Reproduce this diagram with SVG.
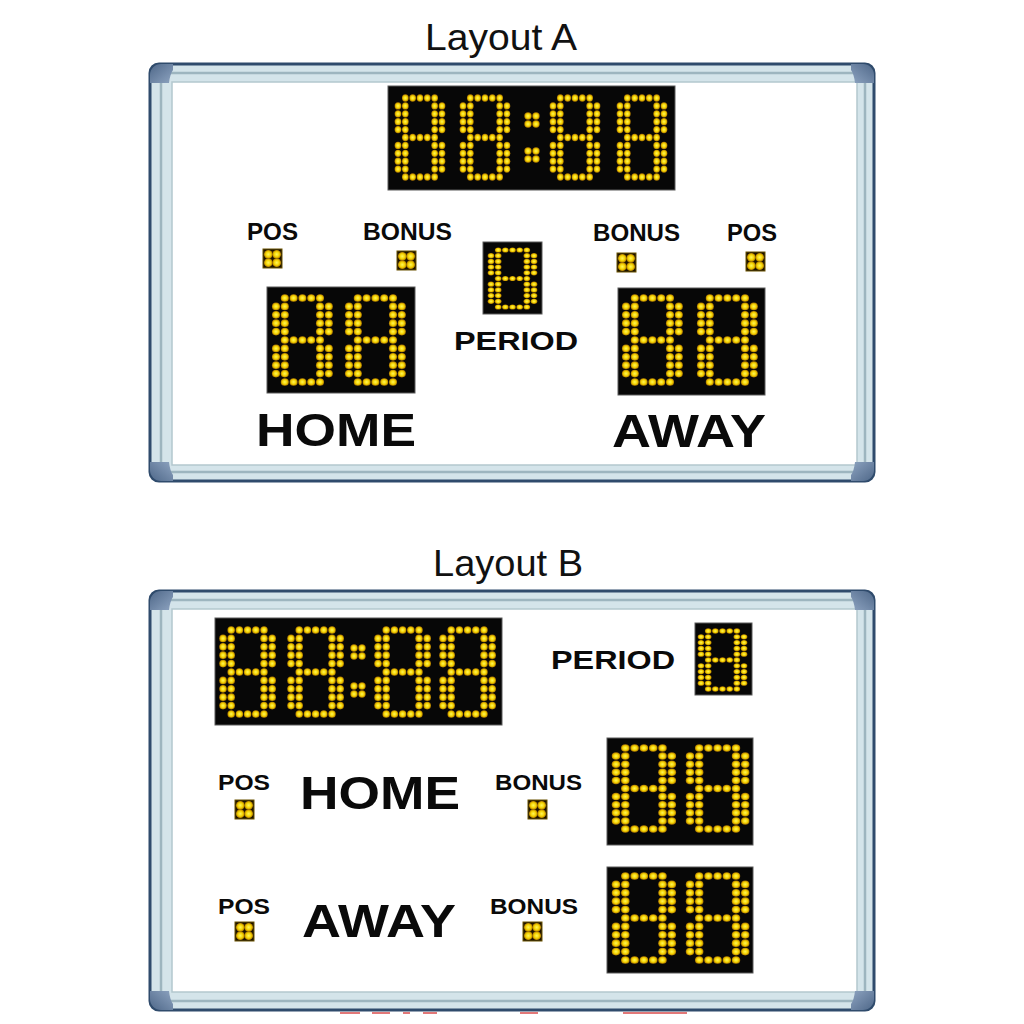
<svg xmlns="http://www.w3.org/2000/svg" xmlns:xlink="http://www.w3.org/1999/xlink" width="1024" height="1024" viewBox="0 0 1024 1024">
<style>
.title{font-family:"Liberation Sans",Arial,sans-serif;font-size:37px;fill:#111}
.lbl{font-family:"Liberation Sans",Arial,sans-serif;font-weight:bold;fill:#0a0a0a}
.panel{fill:#070707;stroke:#5a5a5a;stroke-width:1}
.dot{fill:url(#led)}
.outer{fill:#d4e4ea;stroke:#2f4b6c;stroke-width:3}
.groove{fill:none;stroke:#9db5bf;stroke-width:2.5}
.board{fill:#ffffff;stroke:#b3c7ce;stroke-width:1.5}
.cap{fill:url(#capg)}
</style>
<defs>
<radialGradient id="led" cx="0.5" cy="0.5" r="0.5">
<stop offset="0" stop-color="#fff75a"/>
<stop offset="0.6" stop-color="#f5d200"/>
<stop offset="1" stop-color="#a87200"/>
</radialGradient>
<linearGradient id="capg" x1="0" y1="0" x2="1" y2="1">
<stop offset="0" stop-color="#4f6889"/>
<stop offset="1" stop-color="#8da3c0"/>
</linearGradient>
<g id="d8">
<circle class="dot" cx="10" cy="0" r="4.6"/><circle class="dot" cx="20" cy="0" r="4.6"/><circle class="dot" cx="30" cy="0" r="4.6"/><circle class="dot" cx="40" cy="0" r="4.6"/><circle class="dot" cx="50" cy="0" r="4.6"/>
<circle class="dot" cx="10" cy="50" r="4.6"/><circle class="dot" cx="20" cy="50" r="4.6"/><circle class="dot" cx="30" cy="50" r="4.6"/><circle class="dot" cx="40" cy="50" r="4.6"/><circle class="dot" cx="50" cy="50" r="4.6"/>
<circle class="dot" cx="10" cy="100" r="4.6"/><circle class="dot" cx="20" cy="100" r="4.6"/><circle class="dot" cx="30" cy="100" r="4.6"/><circle class="dot" cx="40" cy="100" r="4.6"/><circle class="dot" cx="50" cy="100" r="4.6"/>
<circle class="dot" cx="0" cy="10" r="4.6"/><circle class="dot" cx="0" cy="20" r="4.6"/><circle class="dot" cx="0" cy="30" r="4.6"/><circle class="dot" cx="0" cy="40" r="4.6"/>
<circle class="dot" cx="10" cy="10" r="4.6"/><circle class="dot" cx="10" cy="20" r="4.6"/><circle class="dot" cx="10" cy="30" r="4.6"/><circle class="dot" cx="10" cy="40" r="4.6"/>
<circle class="dot" cx="50" cy="10" r="4.6"/><circle class="dot" cx="50" cy="20" r="4.6"/><circle class="dot" cx="50" cy="30" r="4.6"/><circle class="dot" cx="50" cy="40" r="4.6"/>
<circle class="dot" cx="60" cy="10" r="4.6"/><circle class="dot" cx="60" cy="20" r="4.6"/><circle class="dot" cx="60" cy="30" r="4.6"/><circle class="dot" cx="60" cy="40" r="4.6"/>
<circle class="dot" cx="0" cy="60" r="4.6"/><circle class="dot" cx="0" cy="70" r="4.6"/><circle class="dot" cx="0" cy="80" r="4.6"/><circle class="dot" cx="0" cy="90" r="4.6"/>
<circle class="dot" cx="10" cy="60" r="4.6"/><circle class="dot" cx="10" cy="70" r="4.6"/><circle class="dot" cx="10" cy="80" r="4.6"/><circle class="dot" cx="10" cy="90" r="4.6"/>
<circle class="dot" cx="50" cy="60" r="4.6"/><circle class="dot" cx="50" cy="70" r="4.6"/><circle class="dot" cx="50" cy="80" r="4.6"/><circle class="dot" cx="50" cy="90" r="4.6"/>
<circle class="dot" cx="60" cy="60" r="4.6"/><circle class="dot" cx="60" cy="70" r="4.6"/><circle class="dot" cx="60" cy="80" r="4.6"/><circle class="dot" cx="60" cy="90" r="4.6"/>
</g>
<g id="colon">
<circle class="dot" cx="0" cy="0" r="3.7"/><circle class="dot" cx="8" cy="0" r="3.7"/><circle class="dot" cx="0" cy="8" r="3.7"/><circle class="dot" cx="8" cy="8" r="3.7"/>
</g>
<g id="sq">
<rect x="0" y="0" width="19" height="19" fill="#1a1200" stroke="#6b5200" stroke-width="1"/>
<circle class="dot" cx="5.3" cy="5.3" r="4.4"/><circle class="dot" cx="13.7" cy="5.3" r="4.4"/><circle class="dot" cx="5.3" cy="13.7" r="4.4"/><circle class="dot" cx="13.7" cy="13.7" r="4.4"/>
</g>
<path id="capTL" class="cap" d="M0,19 V11 A11,11 0 0 1 11,0 H23 V6 Q20,10 19,19 Z"/>
</defs>

<rect x="0" y="0" width="1024" height="1024" fill="#ffffff"/>

<!-- ===== Layout A ===== -->
<text id="titleA" class="title" x="501" y="50" text-anchor="middle" textLength="152" lengthAdjust="spacingAndGlyphs">Layout A</text>

<g id="frameA">
<rect class="outer" x="150" y="64" width="724" height="417" rx="9"/>
<rect class="groove" x="161" y="73" width="704" height="399"/>
<rect class="board" x="172" y="82" width="685" height="383"/>
<use href="#capTL" transform="translate(150,64)"/>
<use href="#capTL" transform="translate(874,64) scale(-1,1)"/>
<use href="#capTL" transform="translate(150,481) scale(1,-1)"/>
<use href="#capTL" transform="translate(874,481) scale(-1,-1)"/>
</g>

<g id="clockA">
<rect class="panel" x="388" y="86" width="287" height="104"/>
<use href="#d8" transform="translate(398,98) scale(0.733,0.79)"/>
<use href="#d8" transform="translate(463,98) scale(0.733,0.79)"/>
<use href="#colon" transform="translate(528,116)"/>
<use href="#colon" transform="translate(528,151)"/>
<use href="#d8" transform="translate(553,98) scale(0.733,0.79)"/>
<use href="#d8" transform="translate(620,98) scale(0.733,0.79)"/>
</g>

<g id="posA-home">
<text class="lbl" x="247" y="240" font-size="23" textLength="51" lengthAdjust="spacingAndGlyphs">POS</text>
<use href="#sq" transform="translate(263,249)"/>
</g>
<g id="bonusA-home">
<text class="lbl" x="363" y="240" font-size="23" textLength="89" lengthAdjust="spacingAndGlyphs">BONUS</text>
<use href="#sq" transform="translate(397,251)"/>
</g>
<g id="bonusA-away">
<text class="lbl" x="593" y="241" font-size="23" textLength="87" lengthAdjust="spacingAndGlyphs">BONUS</text>
<use href="#sq" transform="translate(617,253)"/>
</g>
<g id="posA-away">
<text class="lbl" x="727" y="241" font-size="23" textLength="50" lengthAdjust="spacingAndGlyphs">POS</text>
<use href="#sq" transform="translate(746,252)"/>
</g>

<g id="periodA">
<rect class="panel" x="483" y="242" width="59" height="72"/>
<use href="#d8" transform="translate(491,250) scale(0.717,0.57)"/>
<text class="lbl" x="454" y="350" font-size="25" textLength="124" lengthAdjust="spacingAndGlyphs">PERIOD</text>
</g>

<g id="homeA">
<rect class="panel" x="267" y="287" width="148" height="106"/>
<use href="#d8" transform="translate(276,298) scale(0.88,0.84)"/>
<use href="#d8" transform="translate(349,298) scale(0.88,0.84)"/>
<text class="lbl" x="256" y="446" font-size="47" textLength="160" lengthAdjust="spacingAndGlyphs">HOME</text>
</g>

<g id="awayA">
<rect class="panel" x="618" y="288" width="147" height="107"/>
<use href="#d8" transform="translate(626,298) scale(0.88,0.84)"/>
<use href="#d8" transform="translate(701,298) scale(0.88,0.84)"/>
<text class="lbl" x="612" y="447" font-size="47" textLength="154" lengthAdjust="spacingAndGlyphs">AWAY</text>
</g>

<!-- ===== Layout B ===== -->
<text id="titleB" class="title" x="508" y="576" text-anchor="middle" textLength="150" lengthAdjust="spacingAndGlyphs">Layout B</text>

<g id="frameB">
<rect class="outer" x="150" y="591" width="724" height="419" rx="9"/>
<rect class="groove" x="161" y="600" width="704" height="401"/>
<rect class="board" x="172" y="609" width="685" height="383"/>
<use href="#capTL" transform="translate(150,591)"/>
<use href="#capTL" transform="translate(874,591) scale(-1,1)"/>
<use href="#capTL" transform="translate(150,1010) scale(1,-1)"/>
<use href="#capTL" transform="translate(874,1010) scale(-1,-1)"/>
</g>

<g id="clockB">
<rect class="panel" x="215" y="618" width="287" height="107"/>
<use href="#d8" transform="translate(223,630) scale(0.82,0.84)"/>
<use href="#d8" transform="translate(291,630) scale(0.82,0.84)"/>
<use href="#colon" transform="translate(354,648)"/>
<use href="#colon" transform="translate(354,686)"/>
<use href="#d8" transform="translate(378,630) scale(0.82,0.84)"/>
<use href="#d8" transform="translate(443,630) scale(0.82,0.84)"/>
</g>

<g id="periodB">
<text class="lbl" x="551" y="669" font-size="26" textLength="124" lengthAdjust="spacingAndGlyphs">PERIOD</text>
<rect class="panel" x="695" y="623" width="57" height="72"/>
<use href="#d8" transform="translate(701,631) scale(0.717,0.58)"/>
</g>

<g id="homeB">
<text class="lbl" x="218" y="790" font-size="22" textLength="52" lengthAdjust="spacingAndGlyphs">POS</text>
<use href="#sq" transform="translate(235,800)"/>
<text class="lbl" x="300" y="809" font-size="47" textLength="160" lengthAdjust="spacingAndGlyphs">HOME</text>
<text class="lbl" x="495" y="790" font-size="22" textLength="87" lengthAdjust="spacingAndGlyphs">BONUS</text>
<use href="#sq" transform="translate(528,800)"/>
<rect class="panel" x="607" y="738" width="146" height="107"/>
<use href="#d8" transform="translate(616,748) scale(0.93,0.81)"/>
<use href="#d8" transform="translate(690,748) scale(0.92,0.81)"/>
</g>

<g id="awayB">
<text class="lbl" x="218" y="914" font-size="22" textLength="52" lengthAdjust="spacingAndGlyphs">POS</text>
<use href="#sq" transform="translate(235,922)"/>
<text class="lbl" x="302" y="937" font-size="47" textLength="154" lengthAdjust="spacingAndGlyphs">AWAY</text>
<text class="lbl" x="490" y="914" font-size="22" textLength="88" lengthAdjust="spacingAndGlyphs">BONUS</text>
<use href="#sq" transform="translate(523,922)"/>
<rect class="panel" x="607" y="867" width="146" height="106"/>
<use href="#d8" transform="translate(616,876) scale(0.93,0.84)"/>
<use href="#d8" transform="translate(690,876) scale(0.92,0.84)"/>
</g>

<g id="cutoff" fill="#d02020" opacity="0.6">
<rect x="340" y="1012" width="20" height="2"/>
<rect x="372" y="1012" width="18" height="2"/>
<rect x="403" y="1012" width="7" height="2"/>
<rect x="423" y="1012" width="14" height="2"/>
<rect x="520" y="1012" width="18" height="2"/>
<rect x="623" y="1012" width="64" height="2"/>
</g>
</svg>
